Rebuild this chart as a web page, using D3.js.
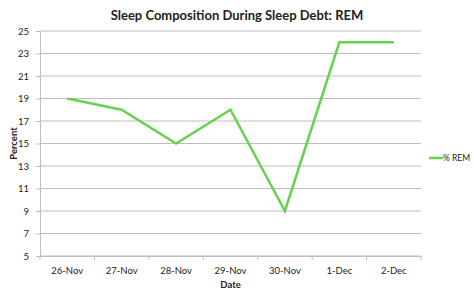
<!DOCTYPE html>
<html>
<head>
<meta charset="utf-8">
<script src="https://cdn.jsdelivr.net/npm/d3@7"></script>
<style>
  body { margin: 0; background: #fff; }
  text { font-family: Lato, "Open Sans", sans-serif; fill: #222; }
</style>
</head>
<body>
<div id="chart"></div>
<script>
const DATES = ["26-Nov", "27-Nov", "28-Nov", "29-Nov", "30-Nov", "1-Dec", "2-Dec"];
const REM = [19, 18, 15, 18, 9, 24, 24];
const Y_TICKS = [5, 7, 9, 11, 13, 15, 17, 19, 21, 23, 25];

const width = 474, height = 297;
const margin = { top: 31, right: 53, bottom: 41, left: 40 };
const innerW = width - margin.left - margin.right;
const innerH = height - margin.top - margin.bottom;

const svg = d3.select("#chart")
    .append("svg")
    .attr("width", width)
    .attr("height", height);

const g = svg.append("g")
    .attr("transform", `translate(${margin.left},${margin.top})`);

const x = d3.scaleBand()
    .domain(DATES)
    .range([0, innerW]);

const y = d3.scaleLinear()
    .domain([5, 25])
    .range([innerH, 0]);

// gridlines
g.append("g")
    .selectAll("line")
    .data(Y_TICKS)
    .enter()
    .append("line")
    .attr("x1", 0)
    .attr("x2", innerW)
    .attr("y1", d => y(d))
    .attr("y2", d => y(d))
    .attr("stroke", "#bdbdbd")
    .attr("stroke-width", 1);

// y axis
const yAxis = g.append("g")
    .call(d3.axisLeft(y).tickValues(Y_TICKS).tickSize(4).tickPadding(7));
yAxis.select(".domain").attr("stroke", "#bdbdbd");
yAxis.selectAll(".tick line").attr("stroke", "#bdbdbd");
yAxis.selectAll("text").style("font-size", "9.5px").attr("fill", "#222");

// x axis with ticks between categories
const xAxis = g.append("g")
    .attr("transform", `translate(0,${innerH})`)
    .call(d3.axisBottom(x).tickSize(0).tickPadding(11));
xAxis.select(".domain").attr("stroke", "#bdbdbd");
xAxis.selectAll("text").style("font-size", "9.5px").attr("fill", "#222");
g.append("g")
    .selectAll("line")
    .data(d3.range(DATES.length + 1))
    .enter()
    .append("line")
    .attr("x1", i => i * x.bandwidth())
    .attr("x2", i => i * x.bandwidth())
    .attr("y1", innerH)
    .attr("y2", innerH + 4)
    .attr("stroke", "#bdbdbd");

// line
const line = d3.line()
    .x((d, i) => x(DATES[i]) + x.bandwidth() / 2)
    .y(d => y(d));

g.append("path")
    .datum(REM)
    .attr("d", line)
    .attr("fill", "none")
    .attr("stroke", "#66d24e")
    .attr("stroke-width", 2.5)
    .attr("stroke-linejoin", "miter");

// title
svg.append("text")
    .attr("x", 237)
    .attr("y", 20)
    .attr("text-anchor", "middle")
    .style("font-size", "13px")
    .style("font-weight", "bold")
    .text("Sleep Composition During Sleep Debt: REM");

// axis titles
svg.append("text")
    .attr("x", margin.left + innerW / 2)
    .attr("y", 288)
    .attr("text-anchor", "middle")
    .style("font-size", "9.5px")
    .style("font-weight", "bold")
    .text("Date");

svg.append("text")
    .attr("transform", `translate(17,${margin.top + innerH / 2}) rotate(-90)`)
    .attr("text-anchor", "middle")
    .style("font-size", "9.5px")
    .style("font-weight", "bold")
    .text("Percent");

// legend
const legend = svg.append("g")
    .attr("transform", "translate(429,158)");
legend.append("line")
    .attr("x1", 0).attr("x2", 14)
    .attr("y1", 0).attr("y2", 0)
    .attr("stroke", "#66d24e")
    .attr("stroke-width", 2.5);
legend.append("text")
    .attr("x", 14)
    .attr("y", 3)
    .style("font-size", "8.5px")
    .text("% REM");
</script>
</body>
</html>
